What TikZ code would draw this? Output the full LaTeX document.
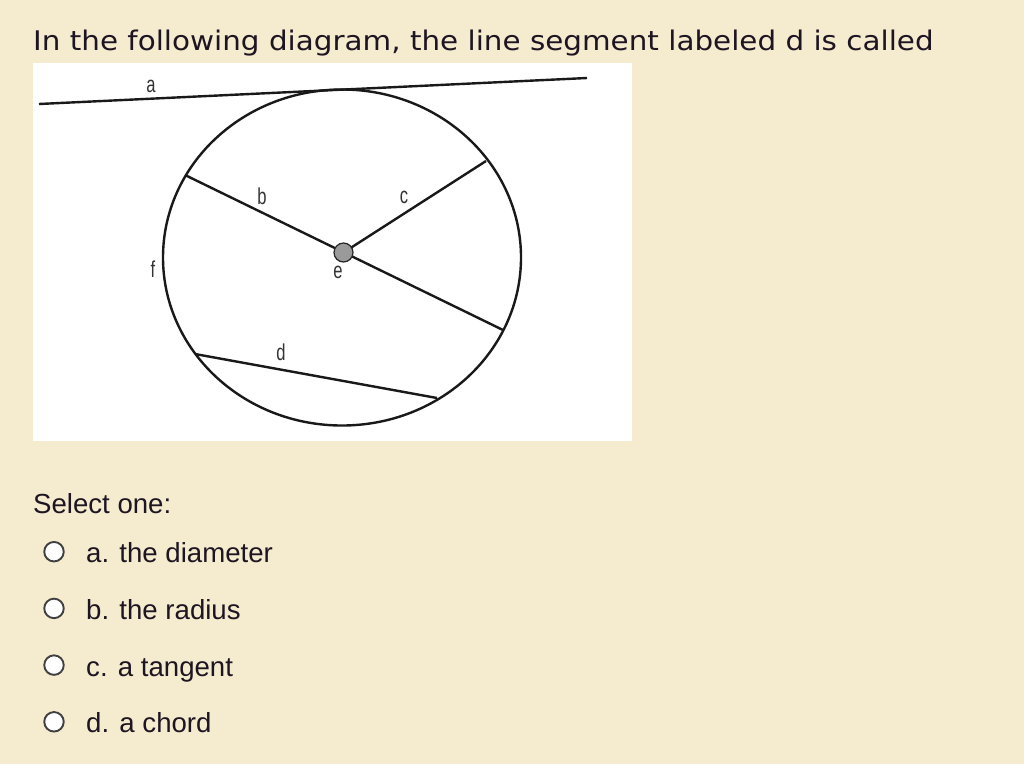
\documentclass[tikz,border=0pt]{standalone}
\usepackage{fontspec}
\setmainfont{Liberation Sans}
\newfontfamily\titlefont{DejaVu Sans}
\definecolor{bg}{HTML}{F5EBCE}
\definecolor{ink}{HTML}{1E1522}
\definecolor{dotgray}{HTML}{9A9A9A}
\newcommand{\narrowlbl}[1]{\scalebox{0.72}[1]{#1}}
\tikzset{
  geo/.style={line width=2.4pt, draw=black!90},
  lbl/.style={font=\fontsize{23}{26}\selectfont, text=black!80, inner sep=0},
  radio/.style={circle, draw=black!75, fill=white, line width=1.9pt, minimum size=19.5pt, inner sep=0},
  opt/.style={anchor=base west, inner sep=0, text=ink, font=\fontsize{27.6}{32}\selectfont},
}
\begin{document}
\begin{tikzpicture}[x=1pt,y=-1pt]
\fill[bg] (0,0) rectangle (1024,764);
\useasboundingbox (0,0) rectangle (1024,764);
\fill[white] (33,63) rectangle (632,441);
\node[anchor=base west, inner sep=0, text=ink, font=\titlefont\fontsize{27}{32}\selectfont] (title) at (33,50) {\scalebox{1.089}[1]{In the following diagram, the line segment labeled d is called}};
% geometry
\coordinate (T1) at (39,104);
\coordinate (T2) at (587,78);
\coordinate (O) at (343.5,252.5);
\coordinate (B1) at (185,175);
\coordinate (B2) at (503,330);
\coordinate (C1) at (486,161);
\coordinate (D1) at (195,354);
\coordinate (D2) at (437,398);
\draw[geo] (342,257.5) ellipse [x radius=179, y radius=168];
\draw[geo] (T1) -- (T2);
\draw[geo] (B1) -- (B2);
\draw[geo] (O) -- (C1);
\draw[geo] (D1) -- (D2);
\node[circle, fill=dotgray, draw=black!85, line width=1.2pt, minimum size=19pt, inner sep=0] (e) at (O) {};
\node[lbl] (la) at (151,86) {\narrowlbl{a}};
\node[lbl] (lb) at (262,196) {\narrowlbl{b}};
\node[lbl] (lc) at (404,197) {\narrowlbl{c}};
\node[lbl] (ld) at (281,352) {\narrowlbl{d}};
\node[lbl] (le) at (338,272) {\narrowlbl{e}};
\node[lbl] (lf) at (153,269) {\narrowlbl{f}};
% answers
\node[opt] (sel) at (33,513) {Select one:};
\node[radio] (ra) at (54,551.7) {};
\node[opt] (ta) at (86,562.7) {a. the diameter};
\node[radio] (rb) at (54,608.4) {};
\node[opt] (tb) at (86,619.4) {b. the radius};
\node[radio] (rc) at (54,665.1) {};
\node[opt] (tc) at (86,676.1) {c. a tangent};
\node[radio] (rd) at (54,721.8) {};
\node[opt] (td) at (86,732.8) {d. a chord};
\end{tikzpicture}
\end{document}
